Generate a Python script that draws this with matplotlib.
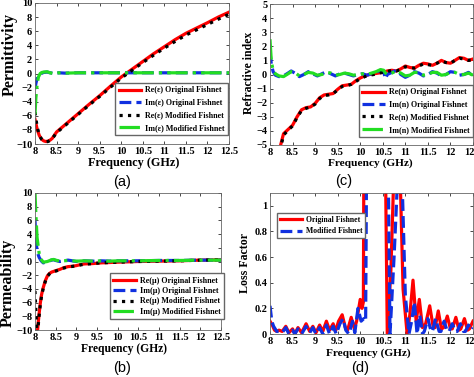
import matplotlib
matplotlib.use("Agg")
import matplotlib.pyplot as plt

plt.rcParams["font.family"] = "Liberation Serif"
plt.rcParams["font.weight"] = "bold"

# ---- (a) permittivity ----
fa_re = [8.0, 8.05, 8.1, 8.15, 8.2, 8.25, 8.3, 8.35, 8.4, 8.5, 8.75, 9.0, 9.25,
         9.5, 9.75, 10.0, 10.25, 10.5, 10.75, 11.0, 11.25, 11.5, 11.75, 12.0,
         12.25, 12.5]
re_eps_orig = [-6.5, -7.9, -8.8, -9.3, -9.55, -9.65, -9.6, -9.45, -9.2, -8.3,
               -7.0, -5.7, -4.4, -3.15, -1.8, -0.5, 0.6, 1.7, 2.8, 3.8, 4.8,
               5.7, 6.45, 7.2, 8.0, 8.7]
re_eps_mod = [-5.5, -7.6, -8.7, -9.3, -9.6, -9.7, -9.65, -9.5, -9.25, -8.4,
              -7.1, -5.8, -4.5, -3.25, -1.95, -0.65, 0.45, 1.55, 2.6, 3.6,
              4.55, 5.45, 6.2, 6.95, 7.7, 8.4]
fa_im = [8.0, 8.02, 8.05, 8.08, 8.12, 8.16, 8.2, 8.28, 8.35, 8.45, 8.55, 8.7,
         9.0, 9.5, 10.0, 10.5, 11.0, 11.5, 12.0, 12.5]
im_eps_orig = [-2.2, -1.4, -0.7, -0.35, -0.1, 0.05, 0.15, 0.2, 0.1, 0.0, 0.1,
               0.05, 0.1, 0.1, 0.1, 0.1, 0.1, 0.1, 0.1, 0.1]
im_eps_mod = [-5.8, -3.5, -1.5, -0.5, 0.0, 0.15, 0.2, 0.25, 0.1, -0.05, 0.1,
              0.05, 0.1, 0.1, 0.1, 0.1, 0.1, 0.1, 0.1, 0.1]

# ---- (c) refractive index ----
fc_re = [8.22, 8.3, 8.4, 8.5, 8.6, 8.7, 8.8, 8.9, 9.0, 9.1, 9.2, 9.3, 9.4, 9.5,
         9.6, 9.7, 9.8, 9.9, 10.0, 10.1, 10.2, 10.3, 10.4, 10.5, 10.6, 10.7,
         10.8, 10.9, 11.0, 11.1, 11.2, 11.3, 11.4, 11.5, 11.6, 11.7, 11.8,
         11.9, 12.0, 12.1, 12.2, 12.3, 12.4, 12.5]
re_n_orig = [-5.2, -4.2, -3.9, -3.6, -3.0, -2.5, -2.35, -2.3, -2.05, -1.65,
             -1.45, -1.4, -1.35, -1.05, -0.8, -0.75, -0.7, -0.45, -0.25, -0.1,
             0.0, 0.05, 0.1, 0.15, 0.25, 0.3, 0.25, 0.4, 0.6, 0.5, 0.45, 0.65,
             0.8, 0.75, 0.65, 0.8, 1.0, 0.85, 0.8, 1.0, 1.2, 1.15, 1.0, 1.1]
re_n_mod = [-5.4, -4.3, -3.95, -3.65, -3.05, -2.55, -2.4, -2.3, -2.1, -1.7,
            -1.5, -1.45, -1.35, -1.1, -0.85, -0.8, -0.7, -0.5, -0.3, -0.15,
            -0.05, 0.0, 0.1, 0.15, 0.2, 0.3, 0.25, 0.35, 0.55, 0.5, 0.45, 0.6,
            0.75, 0.7, 0.65, 0.8, 0.95, 0.85, 0.8, 1.0, 1.15, 1.1, 1.0, 1.05]
fc_im = [8.0, 8.03, 8.07, 8.12, 8.2, 8.3, 8.4, 8.47, 8.55, 8.65, 8.75, 8.85,
         8.95, 9.05, 9.15, 9.25, 9.35, 9.45, 9.55, 9.65, 9.75, 9.85, 9.95,
         10.05, 10.15, 10.25, 10.35, 10.45, 10.52, 10.56, 10.6, 10.7, 10.8,
         10.9, 11.0, 11.1, 11.2, 11.3, 11.4, 11.5, 11.6, 11.7, 11.8, 11.9,
         12.0, 12.1, 12.2, 12.3, 12.4, 12.5]
im_n_orig = [1.6, 0.7, 0.2, -0.05, -0.15, -0.1, 0.1, 0.25, 0.1, -0.15, 0.0,
             0.2, 0.05, -0.1, 0.05, 0.2, 0.05, -0.1, 0.05, 0.1, 0.0, -0.1, 0.0,
             0.05, -0.05, 0.05, 0.15, 0.3, 0.2, -0.3, 0.0, 0.15, 0.3, 0.0,
             -0.2, -0.05, 0.2, 0.1, -0.1, 0.0, 0.2, 0.1, -0.1, 0.0, 0.2, 0.15,
             -0.05, 0.0, 0.15, -0.1]
im_n_mod = [2.5, 0.9, 0.3, 0.05, -0.1, -0.15, 0.05, 0.2, 0.15, -0.1, 0.0,
            0.15, 0.1, -0.05, 0.0, 0.15, 0.1, -0.05, 0.0, 0.1, 0.05, -0.05,
            0.0, 0.05, 0.0, 0.1, 0.2, 0.35, 0.3, 0.1, 0.0, 0.1, 0.25, 0.1,
            -0.1, -0.05, 0.15, 0.15, -0.05, 0.0, 0.15, 0.15, -0.05, 0.0, 0.15,
            0.15, 0.0, 0.0, 0.1, -0.05]

# ---- (b) permeability ----
fb_re = [8.06, 8.08, 8.1, 8.13, 8.16, 8.2, 8.25, 8.3, 8.35, 8.4, 8.45, 8.5,
         8.6, 8.7, 8.8, 8.9, 9.0, 9.1, 9.2, 9.4, 9.6, 9.8, 10.0, 10.5, 11.0,
         11.5, 12.0, 12.5]
re_mu_orig = [-10.2, -8.8, -7.6, -6.0, -4.8, -3.8, -2.8, -2.1, -1.75, -1.55,
              -1.45, -1.35, -1.15, -0.9, -0.75, -0.7, -0.6, -0.45, -0.35, -0.3,
              -0.2, -0.15, -0.1, 0.0, 0.05, 0.1, 0.2, 0.25]
fb_re_mod = [8.0, 8.02, 8.04, 8.06, 8.08, 8.1, 8.13, 8.16, 8.2, 8.25, 8.3,
             8.35, 8.4, 8.45, 8.5, 8.6, 8.7, 8.8, 8.9, 9.0, 9.1, 9.2, 9.4, 9.6,
             9.8, 10.0, 10.5, 11.0, 11.5, 12.0, 12.5]
re_mu_mod = [-4.3, -7.0, -9.6, -10.5, -9.2, -7.9, -6.2, -5.0, -3.9, -2.9,
             -2.2, -1.8, -1.6, -1.5, -1.4, -1.2, -0.95, -0.8, -0.72, -0.65,
             -0.5, -0.4, -0.3, -0.2, -0.15, -0.1, 0.0, 0.05, 0.1, 0.2, 0.25]
fb_im = [8.0, 8.02, 8.05, 8.1, 8.15, 8.2, 8.25, 8.3, 8.4, 8.45, 8.5, 8.6, 8.7,
         8.8, 8.9, 9.0, 9.2, 9.4, 9.6, 9.8, 10.0, 10.5, 11.0, 11.5, 12.0, 12.5]
im_mu_orig = [6.0, 3.5, 1.5, 0.6, 0.1, -0.2, -0.1, 0.0, 0.2, 0.25, 0.15, 0.0,
              0.1, 0.2, 0.1, 0.0, 0.1, 0.05, 0.1, 0.05, 0.1, 0.1, 0.15, 0.15,
              0.2, 0.2]
im_mu_mod = [10.2, 7.0, 3.5, 1.2, 0.3, -0.1, -0.05, 0.0, 0.25, 0.3, 0.2, 0.05,
             0.1, 0.15, 0.1, 0.05, 0.1, 0.05, 0.1, 0.05, 0.1, 0.1, 0.15, 0.15,
             0.2, 0.2]

# ---- (d) loss factor ----
fd_orig = [8.0, 8.05, 8.1, 8.15, 8.2, 8.27, 8.35, 8.42, 8.5, 8.55, 8.62, 8.7,
           8.8, 8.88, 8.95, 9.02, 9.1, 9.17, 9.25, 9.32, 9.4, 9.45, 9.52, 9.6,
           9.67, 9.72, 9.8, 9.87, 9.92, 10.0, 10.04, 10.07, 10.08, 10.56,
           10.6, 10.68, 10.75, 10.88, 10.95, 11.04, 11.1, 11.17, 11.24, 11.31,
           11.38, 11.45, 11.54, 11.62, 11.66, 11.73, 11.8, 11.85, 11.93,
           12.0, 12.04, 12.12, 12.19, 12.23, 12.31, 12.38, 12.42, 12.5]
loss_orig = [0.1, 0.07, 0.03, 0.02, 0.03, 0.02, 0.06, 0.01, 0.04, 0.0, 0.05,
             0.01, 0.08, 0.02, 0.06, 0.01, 0.07, 0.02, 0.1, 0.03, 0.08, 0.02,
             0.1, 0.15, 0.05, 0.03, 0.13, 0.04, 0.1, 0.27, 0.2, 0.25, 1.3, 1.3,
             0.0, 0.5, 1.3, 1.3, 0.35, 0.0, 0.15, 0.42, 0.1, 0.27, 0.05, 0.08,
             0.22, 0.05, 0.05, 0.18, 0.04, 0.05, 0.14, 0.04, 0.04, 0.13, 0.03,
             0.04, 0.12, 0.03, 0.04, 0.1]
fd_mod = [8.0, 8.04, 8.08, 8.15, 8.2, 8.27, 8.35, 8.42, 8.5, 8.55, 8.62, 8.7,
          8.8, 8.88, 8.95, 9.02, 9.1, 9.17, 9.25, 9.32, 9.4, 9.47, 9.55, 9.62,
          9.68, 9.75, 9.83, 9.88, 9.95, 10.02, 10.08, 10.12, 10.14, 10.62,
          10.66, 10.75, 10.84, 10.92, 11.0, 11.08, 11.14, 11.2, 11.26, 11.32,
          11.38, 11.42, 11.5, 11.57, 11.6, 11.67, 11.75, 11.79, 11.86, 11.93,
          11.97, 12.04, 12.11, 12.15, 12.22, 12.29, 12.33, 12.4, 12.47, 12.5]
loss_mod = [0.22, 0.1, 0.06, 0.02, 0.02, 0.01, 0.05, 0.0, 0.03, 0.0, 0.04,
            0.0, 0.06, 0.01, 0.05, 0.0, 0.05, 0.0, 0.07, 0.0, 0.06, 0.0, 0.08,
            0.12, 0.03, 0.0, 0.1, 0.01, 0.2, 0.1, 0.12, 0.1, 1.3, 1.3, 0.0,
            0.6, 1.3, 1.3, 0.3, 0.0, 0.1, 0.25, 0.0, 0.15, 0.0, 0.02, 0.12,
            0.02, 0.02, 0.12, 0.02, 0.02, 0.1, 0.02, 0.02, 0.08, 0.02, 0.02,
            0.08, 0.02, 0.02, 0.07, 0.03, 0.05]

ticks_f = [8, 8.5, 9, 9.5, 10, 10.5, 11, 11.5, 12, 12.5]
tick_f_labels = ["8", "8.5", "9", "9.5", "10", "10.5", "11", "11.5", "12", "12.5"]

W, H = 474, 377
fig = plt.figure(figsize=(W / 100, H / 100), dpi=100)


def add_panel(l, r, t, b):
    return fig.add_axes([l / W, 1 - b / H, (r - l) / W, (b - t) / H])


def px_text(x, y, s, **kw):
    fig.text(x / W, 1 - y / H, s, ha="center", va="center", **kw)


def style(ax, yticks, ylim):
    ax.set_xlim(8, 12.5)
    ax.set_ylim(*ylim)
    ax.set_xticks(ticks_f)
    ax.set_xticklabels(tick_f_labels)
    ax.set_yticks(yticks)
    ax.tick_params(direction="in", top=True, right=True, labelsize=7.5,
                   length=2.5, width=0.5, pad=2)
    for s in ax.spines.values():
        s.set_linewidth(0.6)
        s.set_color("#666666")


def legend(ax, anchor, loc, size, spacing):
    ax.legend(loc=loc, bbox_to_anchor=anchor, handlelength=2.8, borderpad=0.4,
              labelspacing=spacing, handletextpad=0.5, fancybox=False,
              edgecolor="#666666", framealpha=1, borderaxespad=0,
              prop={"weight": "bold", "size": size})


lw = 2.3
blue = "#1030e0"
green = "#22dd22"

# (a)
ax = add_panel(35, 229, 3, 144)
ax.plot(fa_re, re_eps_orig, "-", color="red", lw=lw, label="Re(ε) Original Fishnet")
ax.plot(fa_im, im_eps_orig, "--", color=blue, lw=lw, label="Im(ε) Original Fishnet")
ax.plot(fa_re, re_eps_mod, ":", color="black", lw=lw, label="Re(ε) Modified Fishnet")
ax.plot(fa_im, im_eps_mod, "-.", color=green, lw=lw, label="Im(ε) Modified Fishnet")
style(ax, range(-10, 11, 2), (-10, 10))
legend(ax, (0.995, 0.064), "lower right", 5.8, 0.55)
px_text(134, 163, "Frequency (GHz)", fontsize=8.8, fontweight="bold")
px_text(10, 55, "Permittivity", fontsize=11.5, fontweight="bold", rotation=90)
px_text(122, 182, "(a)", fontsize=10.5, fontweight="normal", family="Liberation Sans")

# (c)
ax = add_panel(270, 473, 4, 145)
ax.plot(fc_re, re_n_orig, "-", color="red", lw=lw, label="Re(n) Original Fishnet")
ax.plot(fc_im, im_n_orig, "--", color=blue, lw=lw, label="Im(n) Original Fishnet")
ax.plot(fc_re, re_n_mod, ":", color="black", lw=lw, label="Re(n) Modified Fishnet")
ax.plot(fc_im, im_n_mod, "-.", color=green, lw=lw, label="Im(n) Modified Fishnet")
style(ax, range(-5, 6), (-5, 5))
legend(ax, (1.0, 0.057), "lower right", 5.8, 0.55)
px_text(370, 163, "Frequency (GHz)", fontsize=8.2, fontweight="bold")
px_text(249, 73, "Refractive index", fontsize=8.5, fontweight="bold", rotation=90)
px_text(344, 181, "(c)", fontsize=10.5, fontweight="normal", family="Liberation Sans")

# (b)
ax = add_panel(35, 221, 193, 330)
ax.plot(fb_re, re_mu_orig, "-", color="red", lw=lw, label="Re(μ) Original Fishnet")
ax.plot(fb_im, im_mu_orig, "--", color=blue, lw=lw, label="Im(μ) Original Fishnet")
ax.plot(fb_re_mod, re_mu_mod, ":", color="black", lw=lw, label="Re(μ) Modified Fishnet")
ax.plot(fb_im, im_mu_mod, "-.", color=green, lw=lw, label="Im(μ) Modified Fishnet")
style(ax, range(-10, 11, 2), (-10, 10))
legend(ax, (1.015, 0.08), "lower right", 5.8, 0.3)
px_text(124, 349, "Frequency (GHz)", fontsize=8.4, fontweight="bold")
px_text(8, 283, "Permeability", fontsize=11.5, fontweight="bold", rotation=90)
px_text(122, 368, "(b)", fontsize=10.5, fontweight="normal", family="Liberation Sans")

# (d)
ax = add_panel(270, 473, 193, 334)
ax.plot(fd_orig, loss_orig, "-", color="red", lw=lw, label="Original Fishnet")
ax.plot(fd_mod, loss_mod, "--", color=blue, lw=lw, label="Modified Fishnet")
style(ax, [0, 0.2, 0.4, 0.6, 0.8, 1], (0, 1.1))
ax.set_yticklabels(["0", "0.2", "0.4", "0.6", "0.8", "1"])
legend(ax, (0.034, 0.858), "upper left", 5.6, 0.4)
px_text(368, 353, "Frequency (GHz)", fontsize=8.2, fontweight="bold")
px_text(245, 263, "Loss Factor", fontsize=8.6, fontweight="bold", rotation=90)
px_text(360, 368, "(d)", fontsize=10.5, fontweight="normal", family="Liberation Sans")

fig.savefig("out.png", dpi=100)
